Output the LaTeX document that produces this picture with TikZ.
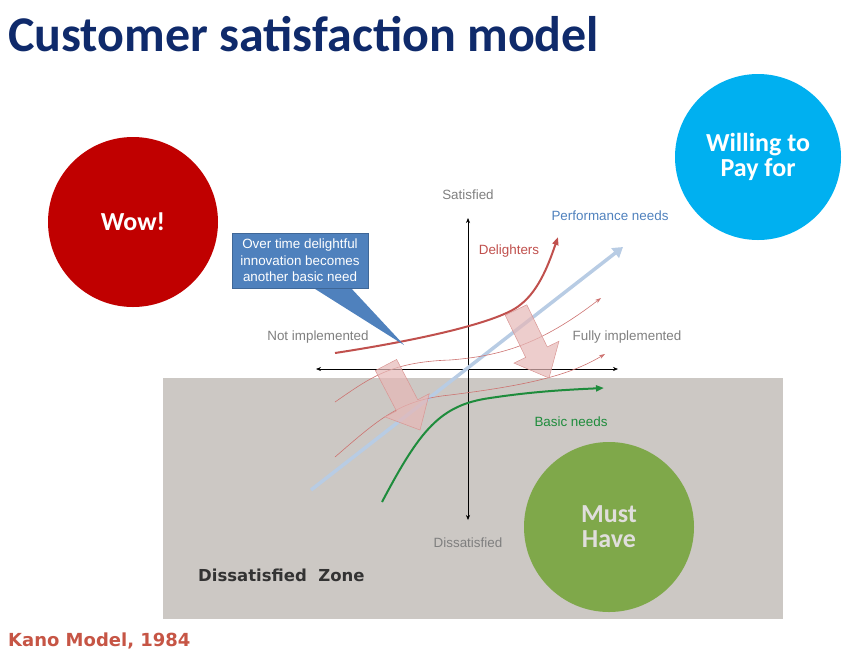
\documentclass[tikz,border=0pt]{standalone}
\usepackage{fontspec}
\setmainfont{Liberation Sans}
\newfontfamily\calfnt{Carlito}
\newfontfamily\dvfnt{DejaVu Sans}
\usetikzlibrary{calc,arrows.meta}
\definecolor{navy}{HTML}{0F2A6B}
\definecolor{zone}{HTML}{CCC8C4}
\definecolor{wowred}{HTML}{C00000}
\definecolor{sky}{HTML}{00B0F0}
\definecolor{olive}{HTML}{7FA84A}
\definecolor{calbl}{HTML}{4F81BD}
\definecolor{delred}{HTML}{C0504D}
\definecolor{perfbl}{HTML}{B8CCE4}
\definecolor{basgr}{HTML}{1E8C3C}
\definecolor{pinkf}{HTML}{E6B8B7}
\definecolor{lbl}{HTML}{7F7F7F}
\tikzset{
 lab/.style={font=\fontsize{13.4}{15}\selectfont, text=lbl},
 bigcirc/.style={circle, minimum size=170pt, inner sep=0pt, font=\calfnt\bfseries\fontsize{26}{29}\selectfont, align=center},
 thinred/.style={delred!80, line width=0.6pt, -{Stealth[length=6pt,width=4pt]}},
 blockarr/.style={fill=pinkf, fill opacity=0.7, draw=delred!60, line width=0.5pt, draw opacity=1}
}
\newcommand\blockarrow[3]{%
 \coordinate (#3) at ($(#1)!0.62!(#2)$);
 \filldraw[blockarr] ($(#1)!12pt!90:(#2)$) -- ($(#3)!12pt!90:(#2)$) -- ($(#3)!25pt!90:(#2)$) -- (#2) -- ($(#3)!25pt!-90:(#2)$) -- ($(#3)!12pt!-90:(#2)$) -- ($(#1)!12pt!-90:(#2)$) -- cycle;}
\begin{document}
\begin{tikzpicture}[x=1pt,y=-1pt]
\useasboundingbox (0,0) rectangle (859,657);
\node[anchor=base west, inner sep=0pt, text=navy, font=\calfnt\bfseries\fontsize{50}{52}\selectfont] (title) at (8,51) {Customer satisfaction model};
\fill[zone] (163,378) rectangle (783,619);
\node[bigcirc, fill=wowred, text=white] (wow) at (133,222) {Wow!};
\node[bigcirc, minimum size=166pt, fill=sky, text=white] (pay) at (758,157) {Willing to\\[-4pt]Pay for};
\node[bigcirc, fill=olive, text=zone!60!white] (must) at (609,527) {Must\\[-4pt]Have};
% axes
\coordinate (xl) at (316,369); \coordinate (xr) at (618,369);
\coordinate (yt) at (468,218); \coordinate (yb) at (468,520);
\draw[{Stealth[length=5pt,width=4pt]}-{Stealth[length=5pt,width=4pt]}, line width=0.6pt] (xl) -- (xr);
\draw[{Stealth[length=5pt,width=4pt]}-{Stealth[length=5pt,width=4pt]}, line width=0.6pt] (yb) -- (yt);
\node[lab] (sat) at (468,195) {Satisfied};
\node[lab] (dis) at (468,543) {Dissatisfied};
\node[lab] (ni) at (318,337) {Not implemented};
\node[lab] (fi) at (627,337) {Fully implemented};
\node[lab, text=calbl] (pn) at (610,216) {Performance needs};
\node[lab, text=delred] (dl) at (509,251) {Delighters};
\node[lab, text=basgr] (bn) at (571,422) {Basic needs};
% performance
\coordinate (p1) at (311,490); \coordinate (p2) at (623,247);
\draw[perfbl, line width=3.5pt, -{Triangle[length=10pt,width=12pt]}] (p1) -- (p2);
% thin red
\coordinate (t1) at (335,402); \coordinate (t1e) at (601,298);
\draw[thinred] (t1) .. controls (370,378) and (390,362) .. (450,360) .. controls (500,356) and (540,345) .. (t1e);
\coordinate (t2) at (335,457); \coordinate (t2e) at (605,354);
\draw[thinred] (t2) .. controls (380,418) and (400,400) .. (450,395) .. controls (530,385) and (570,375) .. (t2e);
% delighters
\coordinate (d1) at (335,353); \coordinate (d2) at (558,237);
\draw[delred, line width=2pt, -{Triangle[length=8pt,width=6pt]}] (d1) .. controls (420,340) and (500,322) .. (520,305) .. controls (540,290) and (550,260) .. (d2);
% basic
\coordinate (b1) at (382,502); \coordinate (b2) at (604,388);
\draw[basgr, line width=2pt, -{Triangle[length=8pt,width=6pt]}] (b1) .. controls (420,430) and (440,405) .. (490,398) .. controls (530,392) and (560,390) .. (b2);
% block arrows
\coordinate (ba1) at (386,365); \coordinate (bb1) at (420,430);
\coordinate (ba2) at (516,310); \coordinate (bb2) at (549,378);
\blockarrow{ba1}{bb1}{bh1}
\blockarrow{ba2}{bb2}{bh2}
% callout
\coordinate (tip) at (404,345);
\fill[calbl] (312,287) -- (tip) -- (350,287) -- cycle;
\node[fill=calbl, text=white, draw=calbl!80!black, line width=0.6pt, minimum width=136pt, minimum height=55pt, align=center, font=\fontsize{13.4}{16.5}\selectfont] (call) at (300,260.5) {Over time delightful\\innovation becomes\\another basic need};
\node[anchor=base west, inner sep=0pt, text=black!80, font=\dvfnt\bfseries\fontsize{16.5}{18}\selectfont] (dz) at (198,581) {Dissatisfied\ \ Zone};
\node[anchor=base west, inner sep=0pt, text=delred!90!orange, font=\dvfnt\bfseries\fontsize{18}{20}\selectfont] (kano) at (8,646) {Kano Model, 1984};
\end{tikzpicture}
\end{document}
